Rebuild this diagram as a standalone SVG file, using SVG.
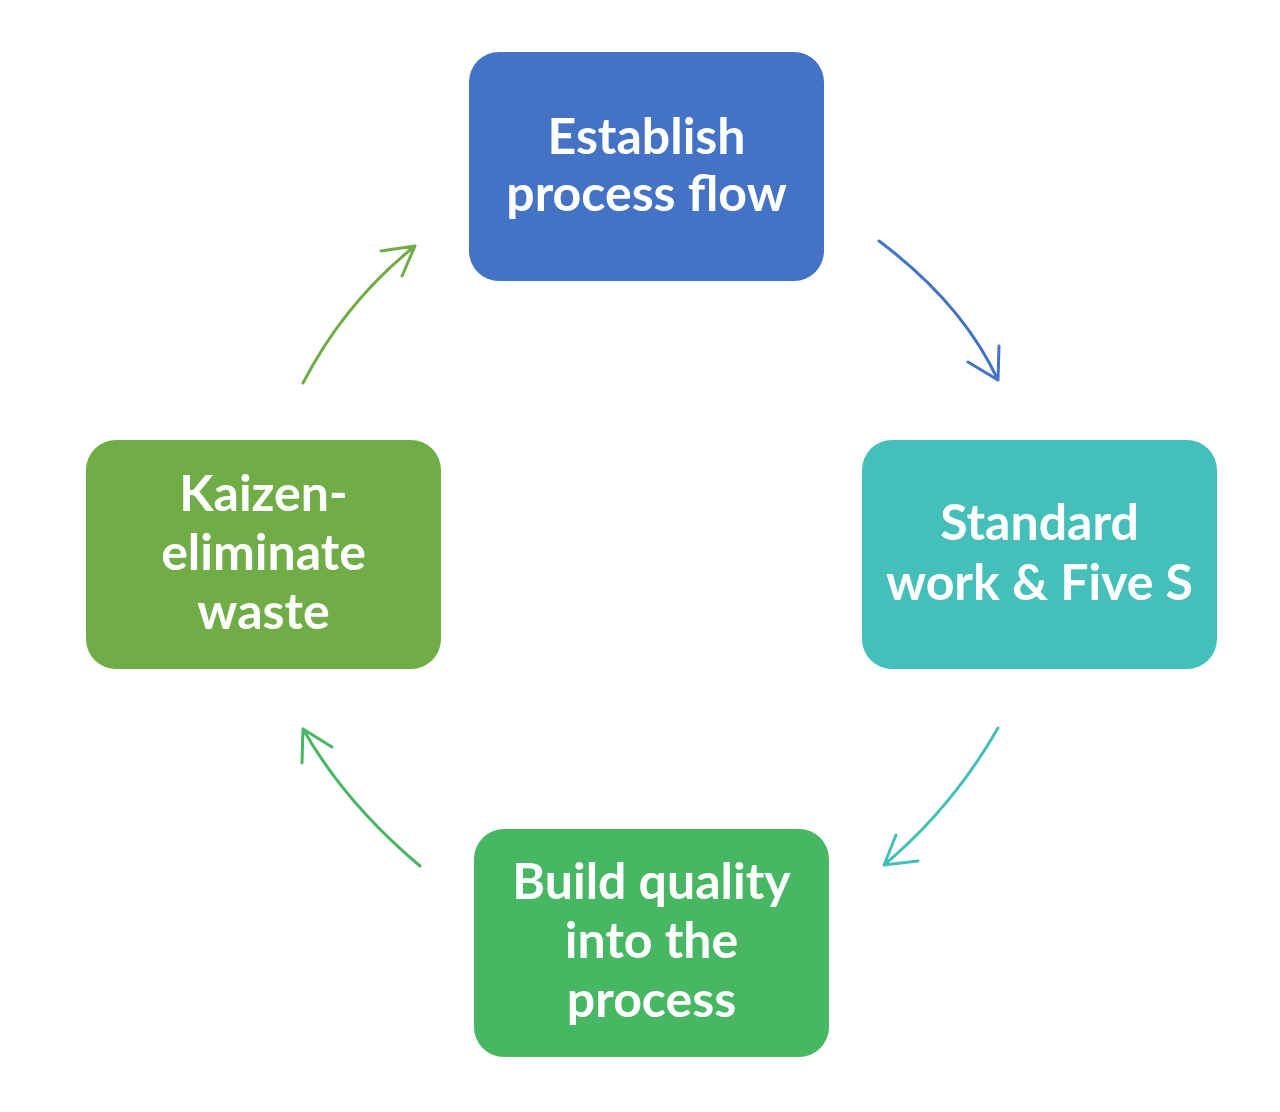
<svg xmlns="http://www.w3.org/2000/svg" width="1280" height="1112" viewBox="0 0 1280 1112">
<style>
.box{stroke:none}
.t{font-family:Lato,"Open Sans",sans-serif;font-weight:bold;font-size:50px;fill:#ffffff;text-anchor:middle}
.c{fill:none;stroke-width:3;stroke-linecap:round;stroke-linejoin:round}
</style>
<rect width="1280" height="1112" fill="#ffffff"/>
<g id="node-establish">
<rect class="box" x="469" y="52" width="355" height="229" rx="30" fill="#4472C4"/>
<text class="t" x="646.5" y="154">Establish</text>
<text class="t" x="646.5" y="211">process flow</text>
</g>
<g id="node-standard">
<rect class="box" x="862" y="440" width="355" height="229" rx="30" fill="#45BFBA"/>
<text class="t" x="1039.5" y="540">Standard</text>
<text class="t" x="1039.5" y="600">work &amp; Five S</text>
</g>
<g id="node-quality">
<rect class="box" x="474" y="829" width="355" height="228" rx="30" fill="#47B763"/>
<text class="t" x="651.5" y="899">Build quality</text>
<text class="t" x="651.5" y="958">into the</text>
<text class="t" x="651.5" y="1017">process</text>
</g>
<g id="node-kaizen">
<rect class="box" x="86" y="440" width="355" height="229" rx="30" fill="#70AD47"/>
<text class="t" x="263.5" y="511">Kaizen-</text>
<text class="t" x="263.5" y="570">eliminate</text>
<text class="t" x="263.5" y="629">waste</text>
</g>
<g id="connectors">
<path class="c" stroke="#4472C4" d="M879,241 Q962,303 998,380 M968,362 L998,380 L999,346"/>
<path class="c" stroke="#45BFBA" d="M998,728 Q952,808 884,865 M896,835 L884,865 L918,861"/>
<path class="c" stroke="#47B763" d="M420,866 Q345,803 303,729 M302,763 L303,729 L332,747"/>
<path class="c" stroke="#70AD47" d="M303,383 Q345,302 415,246 M381,251 L415,246 L402,276"/>
</g>
</svg>
